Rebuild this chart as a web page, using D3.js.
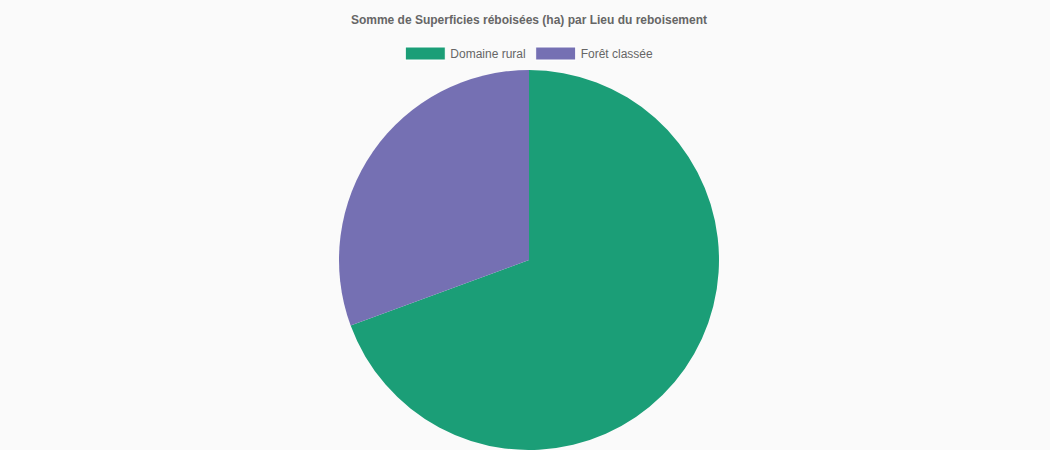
<!DOCTYPE html>
<html>
<head>
<meta charset="utf-8">
<script src="https://cdn.jsdelivr.net/npm/d3@7"></script>
<style>
  html, body { margin: 0; padding: 0; background: #fafafa; }
  svg { display: block; font-family: "Liberation Sans", Arial, Helvetica, sans-serif; }
</style>
</head>
<body>
<svg id="chart" width="1050" height="450"></svg>
<script>
// Data (share of total surface, %).
var categories = ["Domaine rural", "Forêt classée"];
var values = [69.4, 30.6];
var colors = ["#1b9e77", "#7570b3"];
var title = "Somme de Superficies réboisées (ha) par Lieu du reboisement";

var width = 1050, height = 450;
var svg = d3.select("#chart");

// Title
svg.append("text")
	.attr("x", 529)
	.attr("y", 24)
	.attr("text-anchor", "middle")
	.attr("font-size", 12)
	.attr("font-weight", "bold")
	.attr("fill", "#666")
	.text(title);

// Legend, laid out centred like the chart library does it
var box_w = 40, box_h = 13, gap = 10, pad = 5;
var legend = svg.append("g");
var items = legend.selectAll("g")
	.data(categories)
	.enter()
	.append("g");

items.append("rect")
	.attr("width", box_w)
	.attr("height", box_h)
	.attr("fill", function(d, i) { return colors[i]; })
	.attr("stroke", "#fff")
	.attr("stroke-width", 1);

items.append("text")
	.attr("x", box_w + pad)
	.attr("y", box_h / 2)
	.attr("dy", "0.35em")
	.attr("font-size", 12)
	.attr("fill", "#666")
	.text(function(d) { return d; });

var offsets = [];
var total_w = 0;
items.each(function(d, i)
{
	var w = box_w + pad + this.querySelector("text").getComputedTextLength();
	offsets.push(total_w);
	total_w += w + (i < categories.length - 1 ? gap : 0);
});
var start_x = 529 - total_w / 2;
items.attr("transform", function(d, i) { return "translate(" + (start_x + offsets[i]) + ",47)"; });

// Pie
var cx = 529, cy = 260, radius = 190;
var pie = d3.pie().sort(null).value(function(d) { return d; });
var arc = d3.arc().innerRadius(0).outerRadius(radius);

svg.append("g")
	.attr("transform", "translate(" + cx + "," + cy + ")")
	.selectAll("path")
	.data(pie(values))
	.enter()
	.append("path")
	.attr("d", arc)
	.attr("fill", function(d, i) { return colors[i]; })
	.attr("stroke", "#fff")
	.attr("stroke-width", 0);
</script>
</body>
</html>
